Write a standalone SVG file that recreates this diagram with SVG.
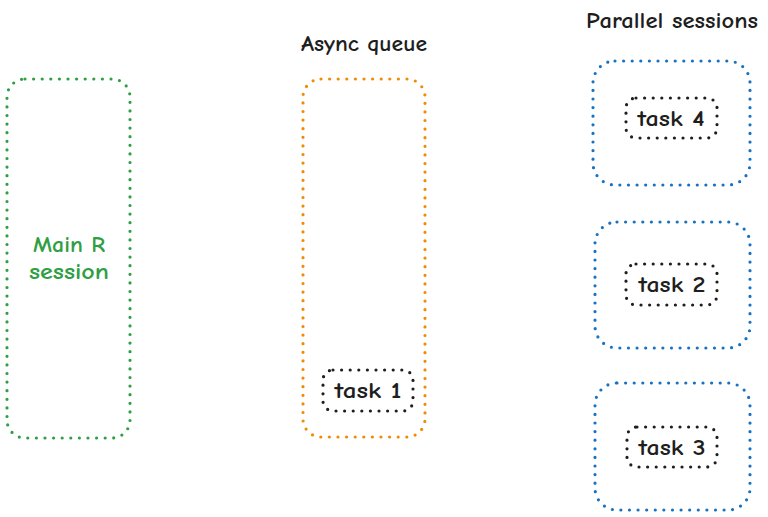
<svg xmlns="http://www.w3.org/2000/svg" width="768" height="517" viewBox="0 0 768 517">
<style>
.box{fill:none;stroke-width:3.2;stroke-linecap:round;stroke-dasharray:0 8.6}
.g{stroke:#2f9e44}.o{stroke:#f08c00}.b{stroke:#1971c2}.k{stroke:#1e1e1e}
text{font-family:"Comic Neue","Noto Sans","DejaVu Sans",sans-serif;font-size:22px;font-weight:bold;fill:#1e1e1e;text-anchor:middle}
.gt{fill:#2f9e44}
</style>
<rect width="768" height="517" fill="#ffffff"/>
<g id="title-async"><text x="364" y="51" textLength="126" lengthAdjust="spacingAndGlyphs">Async queue</text></g>
<g id="title-parallel"><text x="672" y="28" textLength="172" lengthAdjust="spacingAndGlyphs">Parallel sessions</text></g>
<g id="main-session">
<rect class="box g" x="7" y="79" width="123" height="359" rx="18"/>
<text class="gt" x="69" y="252" textLength="72" lengthAdjust="spacingAndGlyphs">Main R</text>
<text class="gt" x="69" y="279" textLength="80" lengthAdjust="spacingAndGlyphs">session</text>
</g>
<g id="async-queue">
<rect class="box o" x="303" y="79" width="122" height="358" rx="18"/>
</g>
<g id="task1">
<rect class="box k" x="323" y="370" width="90" height="41" rx="10"/>
<text x="368" y="398" textLength="67" lengthAdjust="spacingAndGlyphs">task 1</text>
</g>
<g id="session1">
<rect class="box b" x="593" y="61" width="157" height="124" rx="22"/>
</g>
<g id="task4">
<rect class="box k" x="626" y="98" width="91" height="40" rx="10"/>
<text x="671" y="126" textLength="67" lengthAdjust="spacingAndGlyphs">task 4</text>
</g>
<g id="session2">
<rect class="box b" x="595" y="222" width="155" height="126" rx="22"/>
</g>
<g id="task2">
<rect class="box k" x="626" y="264" width="91" height="41" rx="10"/>
<text x="672" y="292" textLength="67" lengthAdjust="spacingAndGlyphs">task 2</text>
</g>
<g id="session3">
<rect class="box b" x="595" y="383" width="155" height="127" rx="22"/>
</g>
<g id="task3">
<rect class="box k" x="627" y="427" width="90" height="40" rx="10"/>
<text x="672" y="455" textLength="67" lengthAdjust="spacingAndGlyphs">task 3</text>
</g>
<g id="connectors"></g>
</svg>
